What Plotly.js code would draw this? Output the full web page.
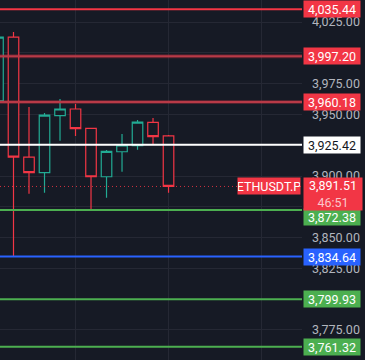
<!DOCTYPE html>
<html>
<head>
<meta charset="utf-8">
<script src="https://cdn.plot.ly/plotly-3.0.1.min.js"></script>
<style>
html,body{margin:0;padding:0;background:#161a25;}
#chart{width:365px;height:360px;}
</style>
</head>
<body>
<div id="chart"></div>
<script>
// Candle data (index along the time axis)
var candleIndex = [0, 1, 2, 3, 4, 5, 6, 7, 8, 9, 10, 11];
var openVals  = [3961.0, 4012.8, 3915.4, 3902.7, 3949.0, 3954.4, 3938.7, 3899.4, 3919.7, 3924.6, 3943.6, 3932.5];
var highVals  = [4014.0, 4017.0, 3956.0, 3951.1, 3962.5, 3958.4, 3939.0, 3921.1, 3934.1, 3945.5, 3947.1, 3933.3];
var lowVals   = [3955.0, 3835.0, 3885.6, 3886.4, 3928.7, 3932.5, 3871.8, 3882.4, 3903.5, 3921.3, 3926.0, 3886.4];
var closeVals = [4012.8, 3915.4, 3902.7, 3949.5, 3954.4, 3938.4, 3899.4, 3920.0, 3925.2, 3943.8, 3931.9, 3891.5];

// Price-scale ticks (labels hidden under level boxes are blank)
var tickValues = [3750, 3775, 3800, 3825, 3850, 3875, 3900, 3925, 3950, 3975, 4000, 4025];
var tickLabels = ["", "3,775.00", "", "3,825.00", "3,850.00", "", "3,900.00", "", "3,950.00", "3,975.00", "", "4,025.00"];

// Horizontal price levels
var levelValues = [4035.44, 3997.20, 3960.18, 3925.42, 3872.38, 3834.64, 3799.93, 3761.32];
var levelLabels = ["4,035.44", "3,997.20", "3,960.18", "3,925.42", "3,872.38", "3,834.64", "3,799.93", "3,761.32"];
var levelKinds  = ["red", "darkred", "darkred", "white", "green", "blue", "green", "green"];

// Current price
var symbolName = "ETHUSDT.P";
var lastPrice = 3891.51;
var lastPriceLabel = "3,891.51";
var countdown = "46:51";

var BG = "#161a25";
var styles = {
  red:     {line: "#f23645", width: 2, bg: "#f23645", fg: "#ffffff"},
  darkred: {line: "#b83a47", width: 2, bg: "#f23645", fg: "#ffffff", glow: "rgba(242,54,69,0.28)"},
  white:   {line: "#ffffff", width: 2, bg: "#ffffff", fg: "#131722"},
  green:   {line: "#4caf50", width: 2, bg: "#4caf50", fg: "#ffffff"},
  blue:    {line: "#2962ff", width: 2, bg: "#2962ff", fg: "#ffffff"}
};
var labelShift = {"3,872.38": -7};

var shapes = [];
var annotations = [];

// current price dotted line
shapes.push({type: "line", xref: "paper", yref: "y", x0: 0, x1: 1, y0: lastPrice, y1: lastPrice,
  line: {color: "rgba(242,54,69,0.85)", width: 1, dash: "1px,3px"}, layer: "above"});

levelValues.forEach(function (v, i) {
  var s = styles[levelKinds[i]];
  if (s.glow) {
    shapes.push({type: "line", xref: "paper", yref: "y", x0: 0, x1: 1, y0: v, y1: v,
      line: {color: s.glow, width: 4}, layer: "above"});
  }
  shapes.push({type: "line", xref: "paper", yref: "y", x0: 0, x1: 1, y0: v, y1: v,
    line: {color: s.line, width: s.width}, layer: "above"});
  annotations.push({xref: "paper", yref: "y", x: 1, y: v, xanchor: "left", yanchor: "middle",
    xshift: 1, yshift: labelShift[levelLabels[i]] || 0,
    text: levelLabels[i], showarrow: false, bgcolor: s.bg, width: 56, height: 16, borderpad: 0,
    font: {family: "Roboto, sans-serif", size: 12.5, color: s.fg}});
});

// symbol label
annotations.push({xref: "paper", yref: "y", x: 1, y: lastPrice, xanchor: "right", yanchor: "middle",
  xshift: -1, text: symbolName, showarrow: false, bgcolor: "#f23645", width: 62, height: 16, borderpad: 0,
  font: {family: "Roboto, sans-serif", size: 12.5, color: "#ffffff"}});
// last price label with countdown
annotations.push({xref: "paper", yref: "y", x: 1, y: lastPrice, xanchor: "left", yanchor: "top",
  xshift: 1, yshift: 9, text: lastPriceLabel + "<br><span style='color:rgba(255,255,255,0.72)'>" + countdown + "</span>",
  showarrow: false, bgcolor: "#f23645", width: 56, height: 30, borderpad: 1,
  font: {family: "Roboto, sans-serif", size: 12.5, color: "#ffffff"}});

var trace = {
  type: "candlestick",
  x: candleIndex,
  open: openVals, high: highVals, low: lowVals, close: closeVals,
  increasing: {line: {color: "#22ab94", width: 1.2}, fillcolor: BG},
  decreasing: {line: {color: "#f23645", width: 1.2}, fillcolor: BG},
  whiskerwidth: 0,
  hoverinfo: "skip"
};

var layout = {
  width: 365, height: 360,
  margin: {l: 0, r: 63, t: 0, b: 0},
  paper_bgcolor: BG, plot_bgcolor: BG,
  showlegend: false,
  boxgap: 0.32, boxgroupgap: 0,
  xaxis: {range: [0.129, 19.61], showticklabels: false, showgrid: true, tick0: 5, dtick: 6,
    gridcolor: "#252834", gridwidth: 1, zeroline: false, showline: false,
    rangeslider: {visible: false}, fixedrange: true},
  yaxis: {side: "right", range: [3750.6, 4042.9], tickmode: "array", tickvals: tickValues, ticktext: tickLabels,
    showgrid: true, gridcolor: "#252834", gridwidth: 1, zeroline: false, showline: false,
    ticks: "", ticklabelstandoff: 9,
    tickfont: {family: "Roboto, sans-serif", size: 12.5, color: "#b2b5be"}, fixedrange: true},
  shapes: shapes,
  annotations: annotations
};

Plotly.newPlot("chart", [trace], layout, {displayModeBar: false, staticPlot: true});
</script>
</body>
</html>
